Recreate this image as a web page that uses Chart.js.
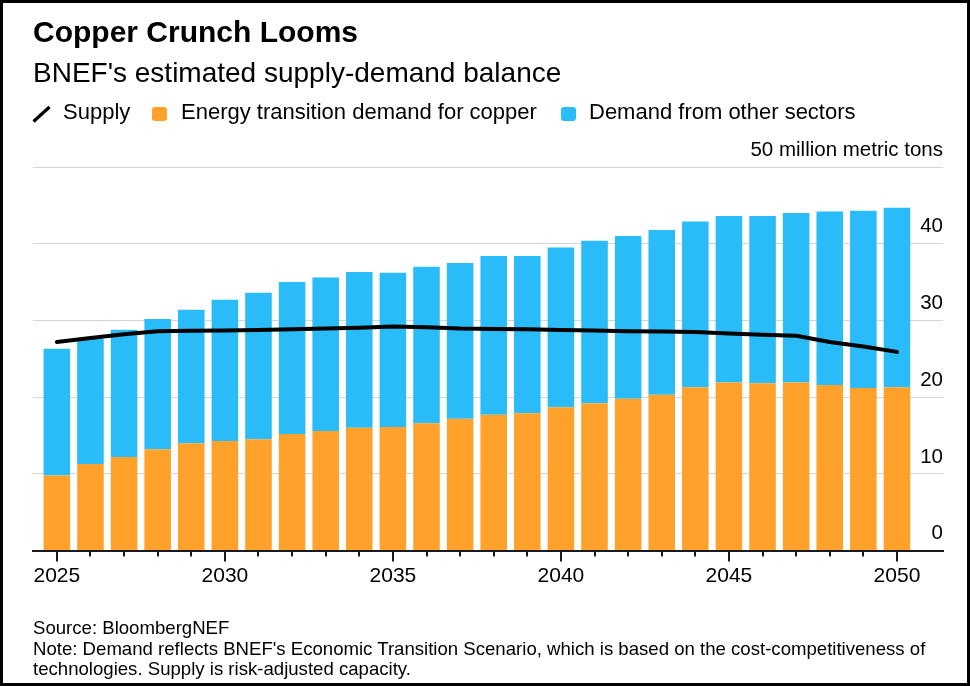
<!DOCTYPE html>
<html lang="en">
<head>
<meta charset="UTF-8">
<title>Copper Crunch Looms</title>
<script src="https://cdn.jsdelivr.net/npm/chart.js"></script>
<style>
  body { margin: 0; background: #fff; font-family: "Liberation Sans", Arial, sans-serif; color: #000; }
  #page { position: relative; width: 970px; height: 686px; overflow: hidden; background: #fff; }
  #frame { position: absolute; left: 0; top: 0; width: 970px; height: 686px; box-sizing: border-box;
           border: 3px solid #000; pointer-events: none; z-index: 3; }
  .txt { position: absolute; white-space: nowrap; z-index: 2; }
  #title { left: 33px; top: 14px; font-size: 30px; line-height: 36px; font-weight: bold; }
  #subtitle { left: 33px; top: 56px; font-size: 28px; line-height: 34px; }
  .leg { top: 99px; font-size: 22px; line-height: 26px; }
  .swatch { position: absolute; top: 107px; width: 15px; height: 14px; border-radius: 3px; z-index: 2; }
  #footer { left: 33px; top: 618px; font-size: 18.6px; line-height: 20.5px; }
  #chartBox { position: absolute; left: 0; top: 0; width: 970px; height: 686px; z-index: 1; }
</style>
</head>
<body>
<div id="page">
  <div id="title" class="txt">Copper Crunch Looms</div>
  <div id="subtitle" class="txt">BNEF's estimated supply-demand balance</div>

  <svg class="txt" style="left:30px;top:104px" width="24" height="20">
    <line x1="3.5" y1="17.5" x2="19.5" y2="3" stroke="#000" stroke-width="3.2"/>
  </svg>
  <div class="txt leg" style="left:63px">Supply</div>
  <div class="swatch" style="left:152px;background:#FFA12A"></div>
  <div class="txt leg" style="left:181px">Energy transition demand for copper</div>
  <div class="swatch" style="left:561px;background:#29BCF8"></div>
  <div class="txt leg" style="left:589px">Demand from other sectors</div>

  <div id="chartBox"><canvas id="copperChart"></canvas></div>

  <div id="footer" class="txt">Source: BloombergNEF<br>Note: Demand reflects BNEF's Economic Transition Scenario, which is based on the cost-competitiveness of<br>technologies. Supply is risk-adjusted capacity.</div>
  <div id="frame"></div>
</div>
<script>
// values, million metric tons
const years = [2025, 2026, 2027, 2028, 2029, 2030, 2031, 2032, 2033, 2034, 2035, 2036, 2037,
               2038, 2039, 2040, 2041, 2042, 2043, 2044, 2045, 2046, 2047, 2048, 2049, 2050];
const energyTransition = [9.8, 11.3, 12.2, 13.2, 14.0, 14.3, 14.5, 15.2, 15.6, 16.0, 16.1, 16.6, 17.2,
                          17.7, 17.9, 18.7, 19.2, 19.8, 20.3, 21.3, 21.9, 21.8, 21.9, 21.6, 21.2, 21.3];
const otherSectors = [16.5, 16.3, 16.6, 17.0, 17.4, 18.4, 19.1, 19.8, 20.0, 20.3, 20.1, 20.4, 20.3,
                      20.7, 20.5, 20.8, 21.2, 21.2, 21.5, 21.6, 21.7, 21.8, 22.1, 22.6, 23.1, 23.4];
const supply = [27.2, 27.7, 28.2, 28.6, 28.65, 28.7, 28.75, 28.85, 28.95, 29.05, 29.2, 29.1, 28.95,
                28.9, 28.85, 28.75, 28.7, 28.6, 28.55, 28.5, 28.3, 28.15, 28.0, 27.2, 26.6, 25.9];
const xTickLabels = ['2025', '2030', '2035', '2040', '2045', '2050'];
const yTickValues = [0, 10, 20, 30, 40, 50];
const yUnitLabel = '50 million metric tons';

const ORANGE = '#FFA12A';
const BLUE = '#29BCF8';

const pts = arr => years.map((yr, i) => ({ x: yr, y: arr[i] }));

// small tick marks under the axis: long ones at labelled years
const yearTicks = {
  id: 'yearTicks',
  afterDraw(chart) {
    const xs = chart.scales.x;
    const ctx = chart.ctx;
    const y0 = chart.chartArea.bottom;
    ctx.save();
    ctx.strokeStyle = '#1a1a1a';
    ctx.lineWidth = 2;
    years.forEach(yr => {
      const px = Math.round(xs.getPixelForValue(yr));
      const len = xTickLabels.includes(String(yr)) ? 11 : 6;
      ctx.beginPath();
      ctx.moveTo(px, y0);
      ctx.lineTo(px, y0 + len);
      ctx.stroke();
    });
    ctx.restore();
  }
};

new Chart(document.getElementById('copperChart'), {
  type: 'bar',
  data: {
    datasets: [
      {
        type: 'line',
        label: 'Supply',
        data: pts(supply),
        stack: 'supply',
        order: 0,
        borderColor: '#000',
        borderWidth: 4,
        borderCapStyle: 'round',
        borderJoinStyle: 'round',
        pointRadius: 0,
        tension: 0
      },
      {
        label: 'Energy transition demand for copper',
        data: pts(energyTransition),
        stack: 'demand',
        order: 1,
        backgroundColor: ORANGE,
        categoryPercentage: 1,
        barPercentage: 0.79
      },
      {
        label: 'Demand from other sectors',
        data: pts(otherSectors),
        stack: 'demand',
        order: 1,
        backgroundColor: BLUE,
        categoryPercentage: 1,
        barPercentage: 0.79
      }
    ]
  },
  options: {
    responsive: true,
    maintainAspectRatio: false,
    animation: false,
    layout: { padding: { left: 33, right: 27, top: 167, bottom: 95.2 } },
    plugins: {
      legend: { display: false },
      tooltip: { enabled: false }
    },
    scales: {
      x: {
        type: 'linear',
        offset: false,
        min: 2024.29,
        max: 2051.37,
        afterBuildTicks: scale => { scale.ticks = years.map(v => ({ value: v })); },
        grid: { drawOnChartArea: false, drawTicks: true, tickLength: 11, tickColor: 'rgba(0,0,0,0)', offset: false },
        border: { display: true, color: '#1a1a1a', width: 2 },
        ticks: {
          autoSkip: false,
          maxRotation: 0,
          padding: 2,
          color: '#000',
          font: { family: '"Liberation Sans", Arial, sans-serif', size: 21 },
          callback: v => xTickLabels.includes(String(v)) ? String(v) : ''
        }
      },
      y: {
        position: 'right',
        stacked: true,
        min: 0,
        max: 50,
        afterBuildTicks: scale => { scale.ticks = yTickValues.map(v => ({ value: v })); },
        grid: { color: '#d4d4d4', lineWidth: 1, drawTicks: false },
        border: { display: false },
        ticks: {
          mirror: true,
          padding: 0,
          labelOffset: -17,
          color: '#000',
          font: { family: '"Liberation Sans", Arial, sans-serif', size: 20.5 },
          callback: v => v === 50 ? yUnitLabel : String(v)
        }
      }
    }
  },
  plugins: [yearTicks]
});
</script>
</body>
</html>
